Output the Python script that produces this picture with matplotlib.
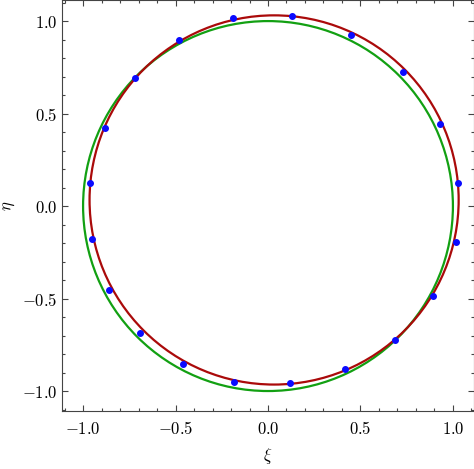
import matplotlib
matplotlib.use('Agg')
import matplotlib.pyplot as plt
from matplotlib.patches import Circle
from matplotlib.ticker import MultipleLocator, FuncFormatter

plt.rcParams['mathtext.fontset'] = 'cm'

# unit circle (green) and fitted circle (red): centre, radius
green_center = (0.0, 0.0)
green_radius = 1.0
red_center = (0.033, 0.033)
red_radius = 0.998

# sampled points (blue)
xi = [-0.191, -0.483, -0.721, -0.881, -0.960, -0.951, -0.859, -0.692, -0.461, -0.182,
      0.117, 0.418, 0.686, 0.894, 1.015, 1.027, 0.930, 0.728, 0.449, 0.130]
eta = [1.016, 0.897, 0.692, 0.423, 0.124, -0.177, -0.456, -0.688, -0.856, -0.950,
       -0.959, -0.883, -0.724, -0.488, -0.196, 0.126, 0.443, 0.724, 0.926, 1.027]

fig = plt.figure(figsize=(4.74, 4.69), dpi=100)
ax = fig.add_axes([62 / 474, 58 / 469, 412 / 474, 411 / 469])

ax.add_patch(Circle(green_center, green_radius, fill=False, color='#12a012', lw=1.6, zorder=2))
ax.add_patch(Circle(red_center, red_radius, fill=False, color='#aa0a0a', lw=1.6, zorder=3))
ax.plot(xi, eta, 'o', color='#0a0aff', ms=4, zorder=4)

ax.set_xlim(-1.114, 1.114)
ax.set_ylim(-1.108, 1.114)

fmt = FuncFormatter(lambda v, p: f'${v:.1f}$')
for axis in (ax.xaxis, ax.yaxis):
    axis.set_major_locator(MultipleLocator(0.5))
    axis.set_minor_locator(MultipleLocator(0.1))
    axis.set_major_formatter(fmt)

ax.tick_params(which='both', direction='in', top=True, right=True, colors='#444444', labelcolor='black', labelsize=12)
ax.tick_params(which='major', length=4.5, width=0.8)
ax.tick_params(which='minor', length=2.5, width=0.8)
ax.tick_params(axis='x', which='major', pad=6.5)
ax.tick_params(axis='y', which='major', pad=3)
for s in ax.spines.values():
    s.set_color('#444444')
    s.set_linewidth(0.8)

ax.set_xlabel(r'$\xi$', fontsize=12, labelpad=6)
ax.set_ylabel(r'$\eta$', fontsize=12, labelpad=4)

fig.savefig('out.png', dpi=100)
